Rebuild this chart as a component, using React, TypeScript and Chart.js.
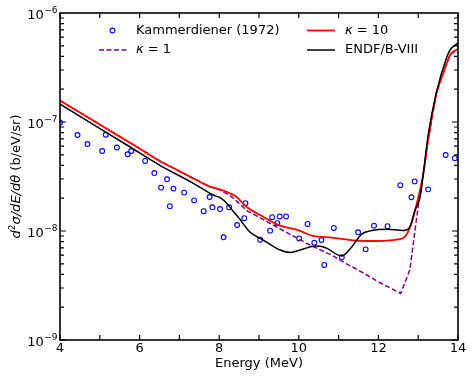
import React, { useEffect, useRef } from "react";
import { Chart, registerables } from "chart.js";

Chart.register(...registerables);

// Kammerdiener (1972) data points
const kamE = [4.0, 4.44, 4.69, 5.06, 5.15, 5.43, 5.70, 5.79, 6.14, 6.37, 6.54, 6.69, 6.76, 6.85, 7.12, 7.37, 7.61, 7.76, 7.83, 8.02, 8.11, 8.25, 8.45, 8.63, 8.66, 9.03, 9.28, 9.33, 9.46, 9.52, 9.68, 10.01, 10.22, 10.39, 10.57, 10.64, 10.88, 11.08, 11.49, 11.68, 11.89, 12.23, 12.55, 12.83, 12.91, 13.25, 13.69, 13.92];
const kamY = [9.9e-8, 7.6e-8, 6.28e-8, 5.42e-8, 7.64e-8, 5.83e-8, 5.06e-8, 5.42e-8, 4.39e-8, 3.4e-8, 2.5e-8, 2.98e-8, 1.69e-8, 2.45e-8, 2.25e-8, 1.91e-8, 1.52e-8, 2.05e-8, 1.65e-8, 1.59e-8, 8.75e-9, 1.65e-8, 1.135e-8, 1.31e-8, 1.8e-8, 8.32e-9, 1.007e-8, 1.34e-8, 1.18e-8, 1.36e-8, 1.36e-8, 8.54e-9, 1.16e-8, 7.82e-9, 8.27e-9, 4.88e-9, 1.066e-8, 5.74e-9, 9.73e-9, 6.79e-9, 1.12e-8, 1.107e-8, 2.63e-8, 2.04e-8, 2.85e-8, 2.41e-8, 4.98e-8, 4.66e-8];

// kappa = 1
const k1E = [4.0, 5.0, 6.0, 6.51, 7.0, 7.35, 7.77, 8.02, 8.27, 8.44, 8.69, 9.03, 9.5, 9.98, 10.36, 10.83, 11.2, 11.66, 12.04, 12.56, 12.79, 13.01, 13.13, 13.25, 13.46, 13.63, 13.8, 14.0];
const k1Y = [1.575e-7, 9.48e-8, 5.71e-8, 4.39e-8, 3.54e-8, 3.04e-8, 2.55e-8, 2.38e-8, 2.12e-8, 1.88e-8, 1.54e-8, 1.32e-8, 1.06e-8, 8.5e-9, 7.2e-9, 6.0e-9, 5.0e-9, 4.05e-9, 3.35e-9, 2.68e-9, 4.4e-9, 1.8e-8, 3.38e-8, 6.84e-8, 1.85e-7, 2.8e-7, 4.12e-7, 4.68e-7];

// kappa = 10
const k10E = [4.0, 5.0, 6.0, 6.51, 7.0, 7.35, 7.77, 8.02, 8.27, 8.44, 8.69, 9.03, 9.53, 9.98, 10.36, 10.83, 11.41, 11.91, 12.59, 12.79, 13.0, 13.13, 13.25, 13.46, 13.63, 13.8, 14.0];
const k10Y = [1.575e-7, 9.48e-8, 5.71e-8, 4.39e-8, 3.54e-8, 3.04e-8, 2.55e-8, 2.41e-8, 2.22e-8, 2.05e-8, 1.66e-8, 1.4e-8, 1.12e-8, 1.02e-8, 9.0e-9, 8.7e-9, 8.18e-9, 8.1e-9, 8.53e-9, 1.07e-8, 2.01e-8, 3.38e-8, 6.84e-8, 1.85e-7, 2.8e-7, 4.12e-7, 4.68e-7];

// ENDF/B-VIII
const endfE = [4.0, 4.84, 5.68, 6.51, 7.35, 7.85, 8.02, 8.2, 8.35, 8.52, 8.77, 9.11, 9.53, 9.78, 10.07, 10.41, 10.66, 11.08, 11.33, 11.58, 11.83, 12.21, 12.63, 12.79, 12.92, 13.05, 13.13, 13.25, 13.46, 13.72, 13.8, 14.0];
const endfY = [1.46e-7, 9.48e-8, 6.15e-8, 4.0e-8, 2.74e-8, 2.14e-8, 2.02e-8, 1.78e-8, 1.52e-8, 1.28e-8, 9.8e-9, 8.26e-9, 6.7e-9, 6.35e-9, 6.76e-9, 7.28e-9, 7.06e-9, 5.9e-9, 7.13e-9, 9.37e-9, 1.01e-8, 1.04e-8, 1.01e-8, 1.09e-8, 1.56e-8, 2.06e-8, 3.38e-8, 7.6e-8, 1.88e-7, 3.97e-7, 4.58e-7, 5.31e-7];

const xLabelValues = [4, 6, 8, 10, 12, 14];
const yDecades = [-9, -8, -7, -6];

const FONT = "'DejaVu Sans', sans-serif";

const toXY = (xs: number[], ys: number[]) => xs.map((x, i) => ({ x, y: ys[i] }));

const decor = {
  id: "decor",
  afterDatasetsDraw(chart: any) {
    const { ctx, chartArea: ca, scales } = chart;
    const x = scales.x;
    const y = scales.y;
    ctx.save();
    // ticks (inward, all four sides)
    ctx.strokeStyle = "#000";
    ctx.lineWidth = 1.2;
    ctx.beginPath();
    for (let e = 4; e <= 14; e++) {
      const px = x.getPixelForValue(e);
      ctx.moveTo(px, ca.bottom);
      ctx.lineTo(px, ca.bottom - 5);
      ctx.moveTo(px, ca.top);
      ctx.lineTo(px, ca.top + 5);
    }
    for (let d = yDecades[0]; d < yDecades[yDecades.length - 1]; d++) {
      for (let m = 1; m <= 9; m++) {
        const py = y.getPixelForValue(m * Math.pow(10, d));
        const len = m === 1 ? 6 : 4;
        ctx.moveTo(ca.left, py);
        ctx.lineTo(ca.left + len, py);
        ctx.moveTo(ca.right, py);
        ctx.lineTo(ca.right - len, py);
      }
    }
    ctx.stroke();
    // frame
    ctx.lineWidth = 1.6;
    ctx.strokeRect(ca.left, ca.top, ca.right - ca.left, ca.bottom - ca.top);

    // y tick labels 10^d
    ctx.fillStyle = "#000";
    ctx.textBaseline = "alphabetic";
    ctx.textAlign = "left";
    for (const d of yDecades) {
      const py = y.getPixelForValue(Math.pow(10, d));
      const exp = "\u2212" + Math.abs(d);
      ctx.font = `13px ${FONT}`;
      const wb = ctx.measureText("10").width;
      ctx.font = `9px ${FONT}`;
      const we = ctx.measureText(exp).width;
      const x0 = ca.left - 3 - we - wb;
      ctx.font = `13px ${FONT}`;
      ctx.fillText("10", x0, py + 5.5);
      ctx.font = `9px ${FONT}`;
      ctx.fillText(exp, x0 + wb + 0.5, py - 0.5);
    }

    // y axis title
    ctx.save();
    ctx.translate(20, (ca.top + ca.bottom) / 2);
    ctx.rotate(-Math.PI / 2);
    const parts = [
      { t: "d", f: `italic 13px ${FONT}`, dy: 0 },
      { t: "2", f: `9px ${FONT}`, dy: -5.5 },
      { t: "\u03C3/dE/d\u03B8", f: `italic 13px ${FONT}`, dy: 0 },
      { t: " (b/eV/sr)", f: `13px ${FONT}`, dy: 0 },
    ];
    let total = 0;
    const widths: number[] = [];
    for (const p of parts) {
      ctx.font = p.f;
      const w = ctx.measureText(p.t).width;
      widths.push(w);
      total += w;
    }
    let cx = -total / 2;
    parts.forEach((p, i) => {
      ctx.font = p.f;
      ctx.fillText(p.t, cx, p.dy);
      cx += widths[i];
    });
    ctx.restore();

    // legend
    const ds = chart.data.datasets;
    const r1 = ca.top + 17.5;
    const r2 = ca.top + 37;
    ctx.textBaseline = "middle";
    const drawLabel = (label: string, tx: number, ty: number) => {
      if (label.startsWith("\u03BA")) {
        ctx.font = `italic 13px ${FONT}`;
        ctx.fillText("\u03BA", tx, ty);
        const w = ctx.measureText("\u03BA").width;
        ctx.font = `13px ${FONT}`;
        ctx.fillText(label.slice(1), tx + w, ty);
      } else {
        ctx.font = `13px ${FONT}`;
        ctx.fillText(label, tx, ty);
      }
    };
    // Kammerdiener marker
    ctx.beginPath();
    ctx.strokeStyle = ds[0].pointBorderColor;
    ctx.lineWidth = ds[0].pointBorderWidth;
    ctx.arc(ca.left + 52.5, r1, ds[0].pointRadius, 0, Math.PI * 2);
    ctx.stroke();
    drawLabel(ds[0].label, ca.left + 76, r1);
    // kappa = 1
    ctx.beginPath();
    ctx.strokeStyle = ds[1].borderColor;
    ctx.lineWidth = ds[1].borderWidth;
    ctx.setLineDash(ds[1].borderDash);
    ctx.moveTo(ca.left + 39, r2);
    ctx.lineTo(ca.left + 68, r2);
    ctx.stroke();
    ctx.setLineDash([]);
    drawLabel(ds[1].label, ca.left + 76, r2);
    // kappa = 10
    ctx.beginPath();
    ctx.strokeStyle = ds[2].borderColor;
    ctx.lineWidth = ds[2].borderWidth;
    ctx.moveTo(ca.left + 247, r1);
    ctx.lineTo(ca.left + 275, r1);
    ctx.stroke();
    drawLabel(ds[2].label, ca.left + 285, r1);
    // ENDF
    ctx.beginPath();
    ctx.strokeStyle = ds[3].borderColor;
    ctx.lineWidth = ds[3].borderWidth;
    ctx.moveTo(ca.left + 247, r2);
    ctx.lineTo(ca.left + 275, r2);
    ctx.stroke();
    drawLabel(ds[3].label, ca.left + 285, r2);

    ctx.restore();
  },
};

export default function App() {
  const ref = useRef<HTMLCanvasElement | null>(null);
  useEffect(() => {
    if (!ref.current) return;
    const chart = new Chart(ref.current, {
      type: "line",
      data: {
        datasets: [
          {
            label: "Kammerdiener (1972)",
            data: toXY(kamE, kamY),
            showLine: false,
            pointStyle: "circle",
            pointRadius: 2.4,
            pointBorderWidth: 1.1,
            pointBorderColor: "#0000ff",
            pointBackgroundColor: "rgba(0,0,0,0)",
            borderColor: "#0000ff",
            order: 3,
          } as any,
          {
            label: "\u03BA = 1",
            data: toXY(k1E, k1Y),
            borderColor: "#800080",
            borderWidth: 1.5,
            borderDash: [5, 2.5],
            pointRadius: 0,
            tension: 0,
            order: 2,
          },
          {
            label: "\u03BA = 10",
            data: toXY(k10E, k10Y),
            borderColor: "#ff0000",
            borderWidth: 1.8,
            pointRadius: 0,
            cubicInterpolationMode: "monotone",
            order: 1,
          },
          {
            label: "ENDF/B-VIII",
            data: toXY(endfE, endfY),
            borderColor: "#000000",
            borderWidth: 1.5,
            pointRadius: 0,
            cubicInterpolationMode: "monotone",
            order: 0,
          },
        ],
      },
      options: {
        responsive: false,
        animation: false,
        devicePixelRatio: 1,
        layout: { padding: { top: 13, right: 16, left: 0, bottom: 0 } },
        plugins: { legend: { display: false }, tooltip: { enabled: false } },
        scales: {
          x: {
            type: "linear",
            min: 4,
            max: 14,
            grid: { display: false, drawTicks: false },
            border: { display: false },
            ticks: {
              stepSize: 1,
              autoSkip: false,
              maxRotation: 0,
              padding: 1,
              color: "#000",
              font: { family: FONT, size: 13 },
              callback: (v: any) => (xLabelValues.includes(Number(v)) ? String(v) : ""),
            },
            title: {
              display: true,
              text: "Energy (MeV)",
              color: "#000",
              font: { family: FONT, size: 13 },
              padding: { top: 0, bottom: 8 },
            },
            afterFit: (s: any) => {
              s.height = 39;
            },
          },
          y: {
            type: "logarithmic",
            min: 1e-9,
            max: 1e-6,
            grid: { display: false, drawTicks: false },
            border: { display: false },
            ticks: { display: false },
            afterFit: (s: any) => {
              s.width = 60;
            },
          },
        },
      },
      plugins: [decor],
    });
    return () => chart.destroy();
  }, []);
  return (
    <div style={{ position: "absolute", left: 0, top: 0, width: 474, height: 379, background: "#fff" }}>
      <canvas ref={ref} width={474} height={379} />
    </div>
  );
}
